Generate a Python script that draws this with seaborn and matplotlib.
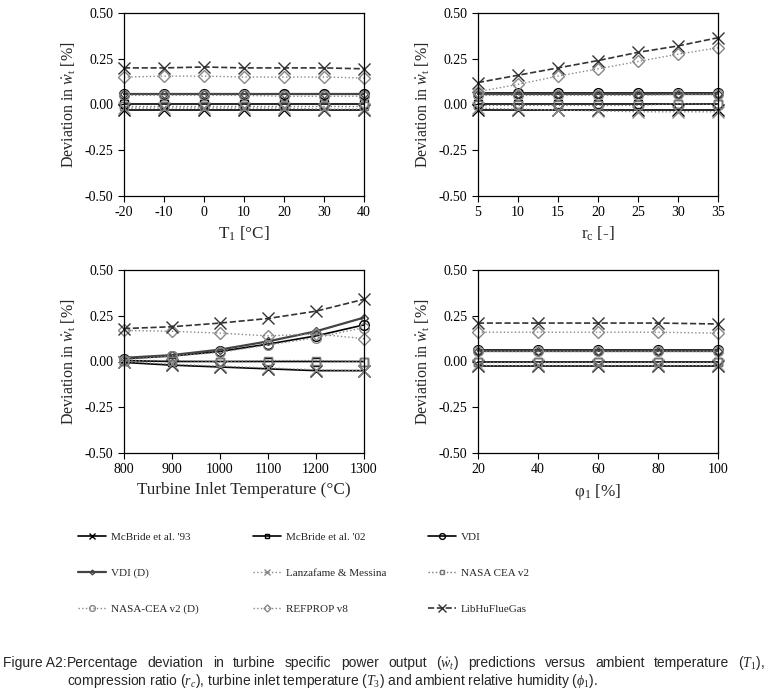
import matplotlib
matplotlib.use("Agg")
import matplotlib.pyplot as plt
import seaborn as sns
from matplotlib.lines import Line2D

# series names, in legend order (row-wise)
series = ["McBride et al. '93", "McBride et al. '02", "VDI",
          "VDI (D)", "Lanzafame & Messina", "NASA CEA v2",
          "NASA-CEA v2 (D)", "REFPROP v8", "LibHuFlueGas"]

# panel (a): ambient temperature T1
t1 = [-20, -10, 0, 10, 20, 30, 40]
t1_dev = [
    [-0.03, -0.03, -0.03, -0.03, -0.03, -0.03, -0.03],    # McBride '93
    [0.0, 0.0, 0.0, 0.0, 0.0, 0.0, 0.0],                  # McBride '02
    [0.06, 0.06, 0.06, 0.06, 0.06, 0.06, 0.06],           # VDI
    [0.055, 0.055, 0.055, 0.055, 0.055, 0.055, 0.055],    # VDI (D)
    [-0.02, -0.02, -0.02, -0.02, -0.02, -0.025, -0.025],  # Lanzafame
    [-0.01, -0.01, -0.01, -0.01, -0.01, -0.01, -0.01],    # NASA CEA v2
    [0.05, 0.05, 0.05, 0.05, 0.045, 0.045, 0.045],        # NASA-CEA v2 (D)
    [0.15, 0.155, 0.155, 0.15, 0.15, 0.15, 0.145],        # REFPROP
    [0.2, 0.2, 0.205, 0.2, 0.2, 0.2, 0.195],              # LibHuFlueGas
]

# panel (b): compression ratio rc
rc = [5, 10, 15, 20, 25, 30, 35]
rc_dev = [
    [-0.03, -0.03, -0.03, -0.03, -0.03, -0.03, -0.03],
    [0.0, 0.0, 0.0, 0.0, 0.0, 0.0, 0.0],
    [0.065, 0.065, 0.065, 0.065, 0.065, 0.065, 0.065],
    [0.06, 0.06, 0.06, 0.06, 0.06, 0.06, 0.06],
    [-0.02, -0.025, -0.03, -0.035, -0.04, -0.04, -0.04],
    [-0.005, -0.005, -0.005, -0.005, -0.005, 0.005, 0.0],
    [0.05, 0.05, 0.05, 0.05, 0.05, 0.055, 0.055],
    [0.07, 0.11, 0.155, 0.195, 0.235, 0.275, 0.31],
    [0.12, 0.16, 0.2, 0.24, 0.285, 0.32, 0.365],
]

# panel (c): turbine inlet temperature T3
t3 = [800, 900, 1000, 1100, 1200, 1300]
t3_dev = [
    [-0.005, -0.02, -0.03, -0.04, -0.05, -0.05],
    [0.005, 0.0, 0.0, 0.0, 0.0, 0.0],
    [0.015, 0.03, 0.055, 0.095, 0.14, 0.2],
    [0.02, 0.035, 0.065, 0.11, 0.165, 0.24],
    [0.0, -0.015, -0.025, -0.035, -0.045, -0.05],
    [0.005, 0.005, 0.0, 0.005, 0.005, 0.0],
    [0.01, 0.03, 0.05, 0.09, 0.13, 0.185],
    [0.17, 0.165, 0.155, 0.14, 0.15, 0.125],
    [0.18, 0.19, 0.21, 0.235, 0.275, 0.34],
]

# panel (d): ambient relative humidity phi1
phi1 = [20, 40, 60, 80, 100]
phi1_dev = [
    [-0.025, -0.025, -0.025, -0.025, -0.025],
    [0.0, 0.0, 0.0, 0.0, 0.0],
    [0.065, 0.065, 0.065, 0.065, 0.065],
    [0.06, 0.06, 0.06, 0.06, 0.06],
    [-0.02, -0.02, -0.02, -0.02, -0.02],
    [-0.005, -0.005, -0.005, -0.005, -0.005],
    [0.055, 0.055, 0.055, 0.055, 0.055],
    [0.16, 0.16, 0.16, 0.16, 0.155],
    [0.21, 0.21, 0.21, 0.21, 0.205],
]

# line style per series: color, linestyle, marker, linewidth, marker size
styles = [
    ("black", "-", "x", 1.2, 8),
    ("black", "-", "s", 1.2, 6),
    ("black", "-", "o", 1.2, 7),
    ("#444444", "-", "D", 1.6, 4),
    ("#888888", ":", "x", 1.0, 8),
    ("#777777", ":", "s", 1.0, 6),
    ("#888888", ":", "o", 1.0, 7),
    ("#888888", ":", "D", 1.0, 6),
    ("#333333", "--", "x", 1.2, 9),
]

sns.set_style("ticks")
plt.rcParams["font.family"] = ["Liberation Serif", "DejaVu Serif"]
plt.rcParams["mathtext.fontset"] = "custom"
plt.rcParams["mathtext.rm"] = "Liberation Serif"
plt.rcParams["mathtext.it"] = "Liberation Serif:italic"
plt.rcParams["axes.unicode_minus"] = False

W, H = 772, 696
fig = plt.figure(figsize=(W / 100, H / 100), dpi=100)


def box(x0, x1, ytop, ybot):
    return [x0 / W, 1 - ybot / H, (x1 - x0) / W, (ybot - ytop) / H]


panels = [
    (box(124, 364, 13, 196), t1, t1_dev, r"T$_1$ [°C]", [-20, -10, 0, 10, 20, 30, 40]),
    (box(478, 718, 13, 196), rc, rc_dev, r"r$_{\rm c}$ [-]", [5, 10, 15, 20, 25, 30, 35]),
    (box(124, 364, 270, 453), t3, t3_dev, "Turbine Inlet Temperature (°C)", [800, 900, 1000, 1100, 1200, 1300]),
    (box(478, 718, 270, 453), phi1, phi1_dev, r"φ$_1$ [%]", [20, 40, 60, 80, 100]),
]

for rect, xs, devs, xlabel, xticks in panels:
    ax = fig.add_axes(rect)
    for name, vals, (c, ls, m, lw, ms) in zip(series, devs, styles):
        sns.lineplot(x=xs, y=vals, ax=ax, color=c, linestyle=ls, linewidth=lw,
                     marker=m, markersize=ms, markerfacecolor="none",
                     markeredgecolor=c, markeredgewidth=1.0)
    if ax.get_legend() is not None:
        ax.get_legend().remove()
    ax.set_xlim(xticks[0], xticks[-1])
    ax.set_ylim(-0.5, 0.5)
    ax.set_xticks(xticks)
    ax.set_yticks([-0.5, -0.25, 0.0, 0.25, 0.5])
    ax.set_yticklabels(["-0.50", "-0.25", "0.00", "0.25", "0.50"])
    ax.tick_params(labelsize=10, length=4, width=0.8, direction="out", colors="black")
    ax.set_xlabel(xlabel, fontsize=12.3, labelpad=4)
    ax.set_ylabel(r"Deviation in $\dot{w}_{\rm t}$ [%]", fontsize=11.5, labelpad=5)
    for sp in ax.spines.values():
        sp.set_visible(True)
        sp.set_linewidth(0.9)
        sp.set_color("black")
    for line in ax.get_lines():
        line.set_clip_on(False)

# legend: three columns placed by hand, row-wise order
handles = [Line2D([], [], color=c, linestyle=ls, linewidth=lw, marker=m,
                  markersize=ms * 0.6, markerfacecolor="none", markeredgecolor=c)
           for (c, ls, m, lw, ms) in styles]
col_x = [78, 253, 428]
for j in range(3):
    idx = [j, j + 3, j + 6]
    fig.legend([handles[i] for i in idx], [series[i] for i in idx],
               loc="upper left", bbox_to_anchor=(col_x[j] / W, 1 - 532 / H),
               frameon=False, fontsize=8, handlelength=2.5, handletextpad=0.45,
               labelspacing=2.35, borderpad=0, borderaxespad=0)

# caption, first line justified word by word
cap_font = ["Liberation Sans Narrow", "Liberation Sans", "DejaVu Sans"]
fig.text(3 / W, 1 - 663 / H, "Figure A2:", fontsize=10, family=cap_font,
         va="center", ha="left")
words = ["Percentage", "deviation", "in", "turbine", "specific", "power", "output",
         r"($\dot{w}_t$)", "predictions", "versus", "ambient", "temperature", r"($T_1$),"]
texts = [fig.text(0, 1 - 663 / H, w, fontsize=10, family=cap_font, va="center", ha="left")
         for w in words]
renderer = fig.canvas.get_renderer()
widths = [t.get_window_extent(renderer).width for t in texts]
gap = (765 - 67 - sum(widths)) / (len(words) - 1)
x = 67
for t, w in zip(texts, widths):
    t.set_x(x / W)
    x += w + gap
fig.text(67 / W, 1 - 681 / H,
         r"compression ratio ($r_c$), turbine inlet temperature ($T_3$) and ambient relative humidity ($\phi_1$).",
         fontsize=10, family=cap_font, va="center", ha="left")

fig.savefig("out.png", dpi=100)
